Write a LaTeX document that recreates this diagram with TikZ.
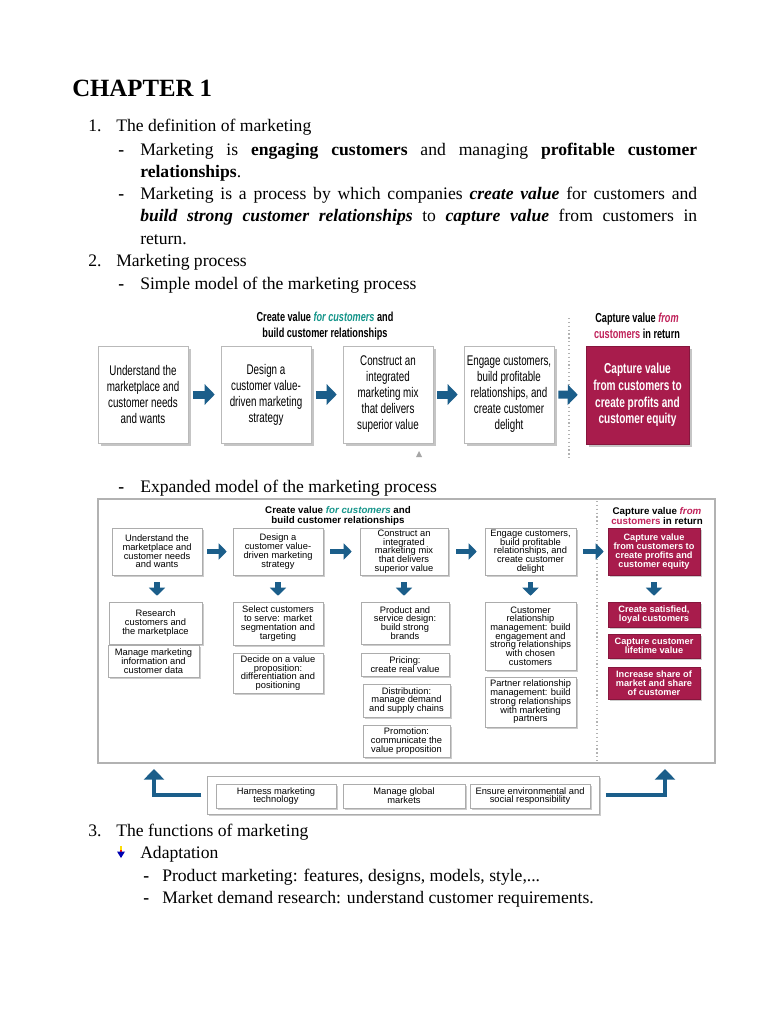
\documentclass[tikz,border=0pt]{standalone}
\usepackage{fontspec}
\setmainfont{Liberation Serif}
\newfontfamily\nar[FakeStretch=0.7]{Liberation Sans}
\newfontfamily\ars{Liberation Sans}
\usetikzlibrary{arrows.meta,shadows}
\definecolor{arrblue}{HTML}{1B5E8A}
\definecolor{crim}{HTML}{A81C4C}
\definecolor{tealc}{HTML}{15958A}
\definecolor{pinkr}{HTML}{C0225A}
\newcommand\pbx[7]{%
  \pgfmathsetmacro\bxw{(#5-#3)*0.75}%
  \pgfmathsetmacro\bxh{(#6-#4)*0.75}%
  \node[#1, minimum width=\bxw pt, minimum height=\bxh pt] (#2) at ({(#3+#5)/2},{(#4+#6)/2}) {#7};}
\tikzset{
  txt/.style={anchor=base west, inner sep=0pt, font=\fontsize{13.2}{16}\selectfont},
  sbox/.style={draw=gray!55, fill=white, inner sep=0pt, align=center,
    drop shadow={shadow xshift=2.2pt, shadow yshift=-2.2pt, opacity=.45},
    font=\nar\fontsize{10.5}{12}\selectfont},
  srbox/.style={draw=crim!80!black, fill=crim, text=white, inner sep=0pt, align=center,
    drop shadow={shadow xshift=2.2pt, shadow yshift=-2.2pt, opacity=.45},
    font=\nar\bfseries\fontsize{10.8}{12.6}\selectfont},
  ebox/.style={draw=gray!65, fill=white, inner sep=0pt, align=center,
    drop shadow={shadow xshift=1.5pt, shadow yshift=-1.5pt, opacity=.4},
    font=\ars\fontsize{7}{6.55}\selectfont},
  erbox/.style={draw=crim!80!black, fill=crim, text=white, inner sep=0pt, align=center,
    drop shadow={shadow xshift=1.5pt, shadow yshift=-1.5pt, opacity=.4},
    font=\ars\bfseries\fontsize{6.9}{6.7}\selectfont},
  sarr/.style={draw=arrblue, line width=6pt, -{Triangle[length=7.5pt,width=15pt]}},
  earr/.style={draw=arrblue, line width=3.8pt, -{Triangle[length=6pt,width=12pt]}},
  larr/.style={draw=arrblue, line width=3.3pt, line join=miter, -{Triangle[length=8pt,width=15pt]}},
}
\begin{document}
\begin{tikzpicture}[x=0.75pt,y=-0.75pt]
\useasboundingbox (0,0) rectangle (768,1024);
\fill[white] (0,0) rectangle (768,1024);

% ---------- text ----------
\node[anchor=base west, inner sep=0pt, font=\bfseries\fontsize{18.6}{20}\selectfont] (ch) at (72,97) {CHAPTER 1};
\node[txt] (n1) at (88,132) {1.};
\node[txt] (t1) at (116,132) {The definition of marketing};
\node[txt] (d1) at (118,155) {\textbf{-}};
\node[txt] (l1) at (140,155) {\makebox[417.75pt][s]{Marketing is \textbf{engaging customers} and managing \textbf{profitable customer}}};
\node[txt] (l2) at (140,177) {\textbf{relationships}.};
\node[txt] (d2) at (118,199) {\textbf{-}};
\node[txt] (l3) at (140,199) {\makebox[417.75pt][s]{Marketing is a process by which companies \textbf{\textit{create value}} for customers and}};
\node[txt] (l4) at (140,221) {\makebox[417.75pt][s]{\textbf{\textit{build strong customer relationships}} to \textbf{\textit{capture value}} from customers in}};
\node[txt] (l5) at (140,244) {return.};
\node[txt] (n2) at (88,266) {2.};
\node[txt] (t2) at (116,266) {Marketing process};
\node[txt] (d3) at (118,289) {\textbf{-}};
\node[txt] (l6) at (140,289) {Simple model of the marketing process};

% ---------- simple model ----------
\node[align=center, inner sep=0pt, font=\nar\bfseries\fontsize{9.8}{12}\selectfont] (sh1) at (325,326)
  {Create value \textcolor{tealc}{\textit{for customers}} and\\build customer relationships};
\node[align=center, inner sep=0pt, font=\nar\bfseries\fontsize{9.8}{12}\selectfont] (sh2) at (637,326)
  {Capture value \textcolor{pinkr}{\textit{from}}\\\textcolor{pinkr}{customers} in return};
\draw[gray!60, dotted, line width=0.9pt] (569,318) -- (569,460);

\pbx{sbox}{sb1}{98}{346}{188}{443}{Understand the\\marketplace and\\customer needs\\and wants}
\pbx{sbox}{sb2}{221}{346}{311}{443}{Design a\\customer value-\\driven marketing\\strategy}
\pbx{sbox}{sb3}{343}{346}{433}{443}{Construct an\\integrated\\marketing mix\\that delivers\\superior value}
\pbx{sbox}{sb4}{464}{346}{554}{443}{Engage customers,\\build profitable\\relationships, and\\create customer\\delight}
\pbx{srbox}{sb5}{586}{346}{689}{444}{Capture value\\from customers to\\create profits and\\customer equity}
\draw[sarr, shorten <=3.5pt, shorten >=4.5pt] (sb1) -- (sb2);
\draw[sarr, shorten <=3.5pt, shorten >=4.5pt] (sb2) -- (sb3);
\draw[sarr, shorten <=3pt, shorten >=4.5pt] (sb3) -- (sb4);
\draw[sarr, shorten <=3pt, shorten >=6pt] (sb4) -- (sb5);
\fill[gray!70] (416,457) -- (422,457) -- (419,451) -- cycle;

\node[txt] (d4) at (118,492) {\textbf{-}};
\node[txt] (l7) at (140,492) {Expanded model of the marketing process};

% ---------- expanded model ----------
\draw[gray!60, line width=0.8pt] (98,499) rectangle (715,763);
\draw[gray!60, dotted, line width=0.9pt] (597,501) -- (597,762);
\node[align=center, inner sep=0pt, font=\ars\bfseries\fontsize{7.3}{6.9}\selectfont] (eh1) at (338,516)
  {Create value \textcolor{tealc}{\textit{for customers}} and\\build customer relationships};
\node[align=center, inner sep=0pt, font=\ars\bfseries\fontsize{7.3}{6.9}\selectfont] (eh2) at (657,516)
  {Capture value \textcolor{pinkr}{\textit{from}}\\\textcolor{pinkr}{customers} in return};

\pbx{ebox}{e1}{112}{528}{202}{575}{Understand the\\marketplace and\\customer needs\\and wants}
\pbx{ebox}{e2}{233}{528}{323}{575}{Design a\\customer value-\\driven marketing\\strategy}
\pbx{ebox}{e3}{360}{528}{448}{575}{Construct an\\integrated\\marketing mix\\that delivers\\superior value}
\pbx{ebox}{e4}{485}{528}{576}{575}{Engage customers,\\build profitable\\relationships, and\\create customer\\delight}
\pbx{erbox}{e5}{608}{528}{700}{575}{Capture value\\from customers to\\create profits and\\customer equity}

\pbx{ebox}{r1}{109}{602}{202}{644}{Research\\customers and\\the marketplace}
\pbx{ebox}{r2}{108}{645}{199}{677}{Manage marketing\\information and\\customer data}
\pbx{ebox}{s1}{233}{602}{323}{645}{Select customers\\to serve: market\\segmentation and\\targeting}
\pbx{ebox}{s2}{233}{653}{323}{693}{Decide on a value\\proposition:\\differentiation and\\positioning}
\pbx{ebox}{p1}{361}{602}{449}{644}{Product and\\service design:\\build strong\\brands}
\pbx{ebox}{p2}{361}{653}{449}{676}{Pricing:\\create real value}
\pbx{ebox}{p3}{363}{684}{450}{717}{Distribution:\\manage demand\\and supply chains}
\pbx{ebox}{p4}{363}{725}{450}{757}{Promotion:\\communicate the\\value proposition}
\pbx{ebox}{c1}{485}{602}{576}{670}{Customer\\relationship\\management: build\\engagement and\\strong relationships\\with chosen\\customers}
\pbx{ebox}{c2}{485}{677}{576}{727}{Partner relationship\\management: build\\strong relationships\\with marketing\\partners}
\pbx{erbox}{v1}{608}{602}{700}{627}{Create satisfied,\\loyal customers}
\pbx{erbox}{v2}{608}{634}{700}{658}{Capture customer\\lifetime value}
\pbx{erbox}{v3}{608}{667}{700}{699}{Increase share of\\market and share\\of customer}

\draw[earr, shorten <=3.75pt, shorten >=4.5pt] (e1) -- (e2);
\draw[earr, shorten <=5.25pt, shorten >=6pt] (e2) -- (e3);
\draw[earr, shorten <=6pt, shorten >=6pt] (e3) -- (e4);
\draw[earr, shorten <=5.25pt, shorten >=3pt] (e4) -- (e5);
\draw[earr, shorten <=5.25pt, shorten >=4.5pt] (e1.south) -- (e1.south |- r1.north);
\draw[earr, shorten <=5.25pt, shorten >=4.5pt] (e2.south) -- (e2.south |- s1.north);
\draw[earr, shorten <=5.25pt, shorten >=4.5pt] (e3.south) -- (e3.south |- p1.north);
\draw[earr, shorten <=5.25pt, shorten >=4.5pt] (e4.south) -- (e4.south |- c1.north);
\draw[earr, shorten <=5.25pt, shorten >=4.5pt] (e5.south) -- (e5.south |- v1.north);

% ---------- bottom band ----------
\pbx{ebox}{bf}{207}{776}{599}{814}{}
\pbx{ebox}{h1}{216}{784}{336}{808}{Harness marketing\\technology}
\pbx{ebox}{h2}{343}{784}{465}{808}{Manage global\\markets}
\pbx{ebox}{h3}{470}{784}{590}{808}{Ensure environmental and\\social responsibility}
\coordinate (la) at (154,769);
\coordinate (ra) at (665,769);
\draw[larr, shorten <=4pt] (bf.west) -| (la);
\draw[larr, shorten <=5pt] (bf.east) -| (ra);

% ---------- section 3 ----------
\node[txt] (n3) at (88,836) {3.};
\node[txt] (t3) at (116,836) {The functions of marketing};
\fill[red!80!orange] (119.6,846) rectangle (122.4,852);
\fill[yellow!80!orange] (120.3,846) rectangle (121.7,850);
\fill[blue!70!black] (117,851.5) -- (125,851.5) -- (121,858) -- cycle;
\node[txt] (l8) at (140,858) {Adaptation};
\node[txt] (d5) at (143,881) {\textbf{-}};
\node[txt] (l9) at (162,881) {Product marketing: features, designs, models, style,...};
\node[txt] (d6) at (143,903) {\textbf{-}};
\node[txt] (l10) at (162,903) {Market demand research: understand customer requirements.};
\end{tikzpicture}
\end{document}
